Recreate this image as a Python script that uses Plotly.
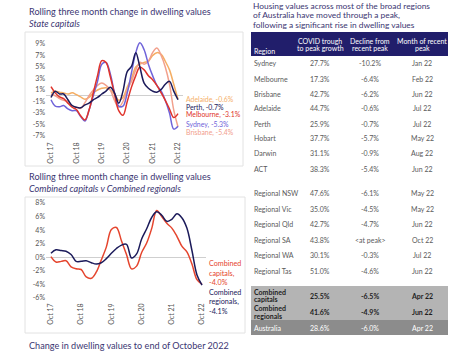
import plotly.graph_objects as go

W, H = 474, 351

months = ["2017-10-01", "2017-12-01", "2018-02-01", "2018-04-01", "2018-06-01", "2018-08-01",
          "2018-10-01", "2018-12-01", "2019-02-01", "2019-04-01", "2019-06-01", "2019-08-01",
          "2019-10-01", "2019-12-01", "2020-02-01", "2020-04-01", "2020-06-01", "2020-08-01",
          "2020-10-01", "2020-12-01", "2021-02-01", "2021-04-01", "2021-06-01", "2021-08-01",
          "2021-10-01", "2021-12-01", "2022-02-01", "2022-04-01", "2022-06-01", "2022-08-01",
          "2022-10-01"]

sydney = [-0.7, -1.8, -1.9, -1.7, -2.3, -2.6, -2.6, -3.6, -4.4, -2.5, 0.0, 2.5, 5.5, 5.8, 3.8, 0.5,
          -1.8, -1.8, 0.5, 4.0, 7.5, 9.2, 8.0, 5.5, 3.5, 1.8, 0.8, -0.8, -3.0, -5.8, -5.3]
melbourne = [1.6, 0.5, -0.2, -0.5, -1.3, -2.0, -2.4, -3.5, -4.2, -2.5, 0.5, 3.5, 6.1, 5.8, 3.3, 0.3,
             -2.6, -3.4, -1.0, 1.5, 3.5, 5.0, 4.5, 3.5, 2.8, 1.8, 0.5, -0.8, -2.3, -3.8, -3.1]
perth = [-0.3, 0.8, 0.3, 0.3, -0.7, -1.7, -2.0, -2.1, -1.6, -1.3, -0.7, -0.3, 0.3, 0.8, 1.5, 0.5,
         -1.3, 0.8, 4.2, 5.1, 7.5, 5.0, 2.2, 1.3, 0.8, 0.6, 1.1, 2.0, 2.5, 0.8, -0.7]
adelaide = [0.5, 0.8, 0.6, 0.5, 0.3, 0.5, 0.2, -0.2, -0.6, -0.3, 0.5, 1.0, 1.3, 1.4, 1.0, 0.3,
            -0.8, -0.3, 1.5, 3.0, 5.0, 5.5, 5.8, 6.0, 7.0, 7.5, 7.2, 6.0, 4.5, 2.0, -0.6]
brisbane = [0.3, 0.0, -0.5, -0.8, -1.0, -1.8, -2.0, -2.2, -1.2, 0.0, 1.0, 1.8, 2.2, 1.8, 1.0, -0.8,
            -2.0, -1.0, 1.0, 2.5, 4.5, 5.8, 5.5, 6.0, 7.5, 8.3, 7.0, 5.0, 2.0, -2.5, -5.4]

capitals = [0.1, -0.7, -0.6, -0.5, -1.4, -1.7, -1.8, -2.9, -3.1, -2.2, -0.4, 1.5, 4.1, 4.4, 2.4, 0.4,
            -1.7, -1.3, 0.7, 2.1, 4.3, 6.9, 6.0, 5.0, 4.3, 3.1, 1.6, 0.8, -1.0, -3.3, -4.0]
regionals = [0.6, 1.1, 1.0, 0.9, 0.4, -0.6, -0.6, -0.5, -0.8, -1.0, -0.8, -0.2, 0.6, 1.3, 1.8, 1.9,
             -0.1, 0.5, 2.7, 4.2, 5.9, 6.7, 6.2, 5.3, 5.6, 6.4, 5.8, 4.3, 1.0, -2.6, -4.1]

tick_dates = ["2017-10-01", "2018-10-01", "2019-10-01", "2020-10-01", "2021-10-01", "2022-10-01"]
tick_text = ["Oct 17", "Oct 18", "Oct 19", "Oct 20", "Oct 21", "Oct 22"]
top_yticks = [-7, -5, -3, -1, 1, 3, 5, 7, 9]
top_ytext = ["-7%", "-5%", "-3%", "-1%", "1%", "3%", "5%", "7%", "9%"]
bot_yticks = [-6, -4, -2, 0, 2, 4, 6, 8]
bot_ytext = ["-6%", "-4%", "-2%", "0%", "2%", "4%", "6%", "8%"]

state_names = ["Sydney", "Melbourne", "Perth", "Adelaide", "Brisbane"]
state_latest = ["-5.3%", "-3.1%", "-0.7%", "-0.6%", "-5.4%"]

regions = ["Sydney", "Melbourne", "Brisbane", "Adelaide", "Perth", "Hobart", "Darwin", "ACT",
           "Regional NSW", "Regional Vic", "Regional Qld", "Regional SA", "Regional WA", "Regional Tas",
           "Combined<br>capitals", "Combined<br>regionals", "Australia"]
growth = ["27.7%", "17.3%", "42.7%", "44.7%", "25.9%", "37.7%", "31.1%", "38.3%",
          "47.6%", "35.0%", "42.7%", "43.8%", "30.1%", "51.0%", "25.5%", "41.6%", "28.6%"]
decline = ["-10.2%", "-6.4%", "-6.2%", "-0.6%", "-0.7%", "-5.7%", "-0.9%", "-5.4%",
           "-6.1%", "-4.5%", "-4.7%", "&lt;at peak&gt;", "-0.3%", "-4.6%", "-6.5%", "-4.9%", "-6.0%"]
peak_month = ["Jan 22", "Feb 22", "Jun 22", "Jul 22", "Jul 22", "May 22", "Aug 22", "Jun 22",
              "May 22", "May 22", "Jun 22", "Oct 22", "Jul 22", "Jun 22", "Apr 22", "Jun 22", "Apr 22"]

FONT = "Lato"
TITLE_C = "#3b3672"


def fx(px):
    return px / W


def fy(py):
    return 1 - py / H


fig = go.Figure()

top_colors = {"Sydney": "#6f63d9", "Melbourne": "#e0332b", "Perth": "#1b1a5a",
              "Adelaide": "#f5ad62", "Brisbane": "#f2a08c"}
top_series = {"Sydney": sydney, "Melbourne": melbourne, "Perth": perth,
              "Adelaide": adelaide, "Brisbane": brisbane}
for name in ["Adelaide", "Brisbane", "Sydney", "Melbourne", "Perth"]:
    fig.add_trace(go.Scatter(x=months, y=top_series[name], mode="lines", line_shape="spline",
                             line=dict(color=top_colors[name], width=1.5), xaxis="x", yaxis="y",
                             showlegend=False, hoverinfo="skip"))

fig.add_trace(go.Scatter(x=months, y=capitals, mode="lines", line_shape="spline",
                         line=dict(color="#e5452e", width=1.5), xaxis="x2", yaxis="y2",
                         showlegend=False, hoverinfo="skip"))
fig.add_trace(go.Scatter(x=months, y=regionals, mode="lines", line_shape="spline",
                         line=dict(color="#1b1a5a", width=1.5), xaxis="x2", yaxis="y2",
                         showlegend=False, hoverinfo="skip"))

tickfont = dict(family=FONT, size=7, color="#555555")

top_l, top_r, top_t, top_b = 46, 183, 40, 140
bot_l, bot_r, bot_t, bot_b = 46, 206, 199, 301

fig.update_layout(
    width=W, height=H, margin=dict(l=0, r=0, t=0, b=0),
    paper_bgcolor="white", plot_bgcolor="rgba(0,0,0,0)",
    xaxis=dict(domain=[fx(top_l), fx(top_r)], type="date", range=["2017-07-21", "2022-12-12"],
               tickvals=tick_dates, ticktext=tick_text, tickangle=-90, tickfont=tickfont,
               showgrid=False, zeroline=False, showline=False, ticks="", anchor="y"),
    yaxis=dict(domain=[fy(top_b), fy(top_t)], range=[-7.7, 9.7], tickvals=top_yticks,
               ticktext=top_ytext, tickfont=tickfont, showgrid=False, zeroline=True,
               zerolinecolor="#cfcfcf", zerolinewidth=1, showline=False, ticks="", anchor="x"),
    xaxis2=dict(domain=[fx(bot_l), fx(bot_r)], type="date", range=["2017-08-02", "2022-11-18"],
                tickvals=tick_dates, ticktext=tick_text, tickangle=-90, tickfont=tickfont,
                showgrid=False, zeroline=False, showline=False, ticks="", anchor="y2"),
    yaxis2=dict(domain=[fy(bot_b), fy(bot_t)], range=[-6.44, 8.59], tickvals=bot_yticks,
                ticktext=bot_ytext, tickfont=tickfont, showgrid=False, zeroline=True,
                zerolinecolor="#cfcfcf", zerolinewidth=1, showline=False, ticks="", anchor="x2"),
)

shapes = []
shapes.append(dict(type="rect", xref="paper", yref="paper", x0=fx(25), x1=fx(243), y0=fy(166), y1=fy(32),
                   line=dict(color="#e2e2e2", width=1), layer="below"))
shapes.append(dict(type="rect", xref="paper", yref="paper", x0=fx(25), x1=fx(245), y0=fy(333), y1=fy(197),
                   line=dict(color="#e2e2e2", width=1), layer="below"))
shapes.append(dict(type="rect", xref="paper", yref="paper", x0=fx(251), x1=fx(448), y0=fy(56), y1=fy(32),
                   fillcolor="#211e6b", line=dict(width=0)))
shapes.append(dict(type="rect", xref="paper", yref="paper", x0=fx(251), x1=fx(448), y0=fy(320), y1=fy(286),
                   fillcolor="#b4b4b4", line=dict(width=0)))
shapes.append(dict(type="rect", xref="paper", yref="paper", x0=fx(251), x1=fx(448), y0=fy(335), y1=fy(320),
                   fillcolor="#8c8c8c", line=dict(width=0)))

ann = []


def text(px, py, s, size=7, color="#555555", anchor="left", italic=False, bold=False, family=FONT):
    if bold:
        s = "<b>" + s + "</b>"
    if italic:
        s = "<i>" + s + "</i>"
    ann.append(dict(x=fx(px), y=fy(py), xref="paper", yref="paper", text=s, showarrow=False,
                    xanchor=anchor, yanchor="middle", align=anchor if anchor != "center" else "center",
                    font=dict(family=family, size=size, color=color)))


text(27, 11.5, "Rolling three month change in dwelling values", size=9.1, color=TITLE_C)
text(27, 23, "State capitals", size=9.1, color=TITLE_C, italic=True)
text(27, 176.5, "Rolling three month change in dwelling values", size=9.1, color=TITLE_C)
text(27, 188, "Combined capitals v Combined regionals", size=9.1, color=TITLE_C, italic=True)
text(27, 345, "Change in dwelling values to end of October 2022", size=9.1, color=TITLE_C)

label_y = {"Adelaide": 100, "Perth": 107.5, "Melbourne": 114.5, "Sydney": 124.5, "Brisbane": 132.5}
label_c = {"Adelaide": "#f5b06a", "Perth": "#1b1a5a", "Melbourne": "#e0332b",
           "Sydney": "#6f63d9", "Brisbane": "#f2a08c"}
for n, v in zip(state_names, state_latest):
    text(184, label_y[n], n + ", " + v, size=6.9, color=label_c[n])

for i, s in enumerate(["Combined", "capitals,", "-4.0%"]):
    text(207, 263.5 + i * 9.6, s, size=7.2, color="#e5452e")
for i, s in enumerate(["Combined", "regionals,", "-4.1%"]):
    text(207, 292 + i * 9.8, s, size=7.2, color="#1b1a5a")

rt = ["Housing values across most of the broad regions",
      "of Australia have moved through a peak,",
      "following a significant rise in dwelling values"]
for i, s in enumerate(rt):
    text(251, 6 + i * 9.3, s, size=8.4, color=TITLE_C)

col1, col2, col3, col4 = 252, 320, 370, 422
text(col1, 51.5, "Region", size=7, color="white")
text(col2, 40.7, "COVID trough", size=7, color="white", anchor="center")
text(col2, 47.7, "to peak growth", size=7, color="white", anchor="center")
text(col3, 40.7, "Decline from", size=7, color="white", anchor="center")
text(col3, 47.7, "recent peak", size=7, color="white", anchor="center")
text(col4, 40.7, "Month of recent", size=7, color="white", anchor="center")
text(col4, 47.7, "peak", size=7, color="white", anchor="center")

row_y = [63.3, 79.3, 94, 108.3, 124, 138.3, 153.5, 169, 192.7, 208.7, 224, 240, 255, 270.7,
         295.5, 312, 328.3]
for i, (r, g, d, m) in enumerate(zip(regions, growth, decline, peak_month)):
    y = row_y[i]
    if i >= 16:
        c, b = "white", False
    elif i >= 14:
        c, b = "#1e1e1e", True
    else:
        c, b = "#5a5a5a", False
    if "<br>" in r:
        a, bb = r.split("<br>")
        text(col1, y - 4, a, size=7, color=c, bold=b)
        text(col1, y + 3.5, bb, size=7, color=c, bold=b)
    else:
        text(col1, y, r, size=7, color=c, bold=b)
    text(col2, y, g, size=7, color=c, anchor="center", bold=b)
    text(col3, y, d, size=7, color=c, anchor="center", bold=b)
    text(col4, y, m, size=7, color=c, anchor="center", bold=b)

fig.update_layout(shapes=shapes, annotations=ann)
fig.write_html("out.html")
